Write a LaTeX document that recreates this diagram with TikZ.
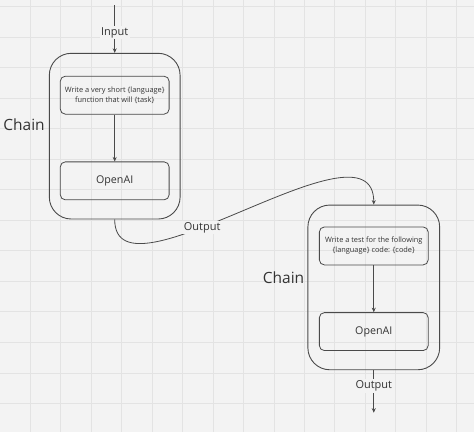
\documentclass[tikz,border=0pt]{standalone}
\usepackage{fontspec}
\setmainfont{Open Sans}
\usepackage{tikz}
\usetikzlibrary{arrows.meta}
\usetikzlibrary{positioning}
\definecolor{paper}{HTML}{F3F3F3}
\definecolor{gridline}{HTML}{E3E3E3}
\definecolor{ink}{HTML}{4A4A4A}
\definecolor{inktext}{HTML}{333333}
\tikzstyle{chainblock} = [rectangle, rounded corners=22pt, minimum width=131pt, minimum height=166pt,
  draw=ink, line width=0.9pt]
\tikzstyle{promptblock} = [rectangle, rounded corners=5pt, minimum width=109pt, minimum height=38pt,
  text centered, align=center, draw=ink, line width=0.8pt, text=inktext,
  font=\fontsize{7.4}{10}\selectfont]
\tikzstyle{modelblock} = [rectangle, rounded corners=5pt, minimum width=109pt, minimum height=38pt,
  text centered, draw=ink, line width=0.8pt, text=inktext, font=\fontsize{10.7}{12}\selectfont]
\tikzstyle{chainlabel} = [text=inktext, inner sep=2pt, font=\fontsize{15.5}{18}\selectfont]
\tikzstyle{flowlabel} = [fill=paper, inner sep=1.5pt, text=inktext, font=\fontsize{11}{13}\selectfont]
\tikzstyle{arrow} = [draw=ink, line width=0.8pt, -{Stealth[length=4.5pt,width=4pt]}]

\begin{document}
\begin{tikzpicture}[x=1pt, y=-1pt]
  % background with grid
  \fill[paper] (0,0) rectangle (474,432);
  \foreach \k in {0,...,14} \draw[gridline, line width=0.8pt] (30+30.5*\k,0) -- (30+30.5*\k,432);
  \foreach \k in {0,...,13} \draw[gridline, line width=0.8pt] (0,6+30.6*\k) -- (474,6+30.6*\k);
  \useasboundingbox (0,0) rectangle (474,432);

  % first chain
  \coordinate (start) at (114.5,5);
  \node (chain1) [chainblock] at (114.5,136) {};
  \node (prompt1) [promptblock, below=23pt of chain1.north, anchor=north]
    {Write a very short \{language\}\\function that will \{task\}};
  \node (model1) [modelblock, below=47pt of prompt1] {OpenAI};
  \node (name1) [chainlabel, left=2pt of chain1.west, anchor=east, yshift=11pt] {Chain};
  \draw [arrow] (start) -- node[flowlabel, pos=0.57]{Input} (chain1.north);
  \draw [arrow] (prompt1) -- (model1);

  % second chain
  \node (chain2) [chainblock, minimum width=132pt, minimum height=165pt] at (374,287.5) {};
  \node (prompt2) [promptblock, below=22pt of chain2.north, anchor=north]
    {Write a test for the following\\\{language\} code: \{code\}};
  \node (model2) [modelblock, below=47pt of prompt2] {OpenAI};
  \node (name2) [chainlabel, left=1pt of chain2.west, anchor=east, yshift=10pt] {Chain};
  \draw [arrow] (prompt2) -- (model2);
  \coordinate (finish) at (374,413);
  \draw [arrow] (chain2.south) -- node[flowlabel, pos=0.37]{Output} (finish);

  % handover between the chains
  \draw [arrow] (chain1.south) .. controls (114.5,310) and (374,110) .. node[flowlabel, pos=0.39]{Output} (chain2.north);
\end{tikzpicture}
\end{document}
